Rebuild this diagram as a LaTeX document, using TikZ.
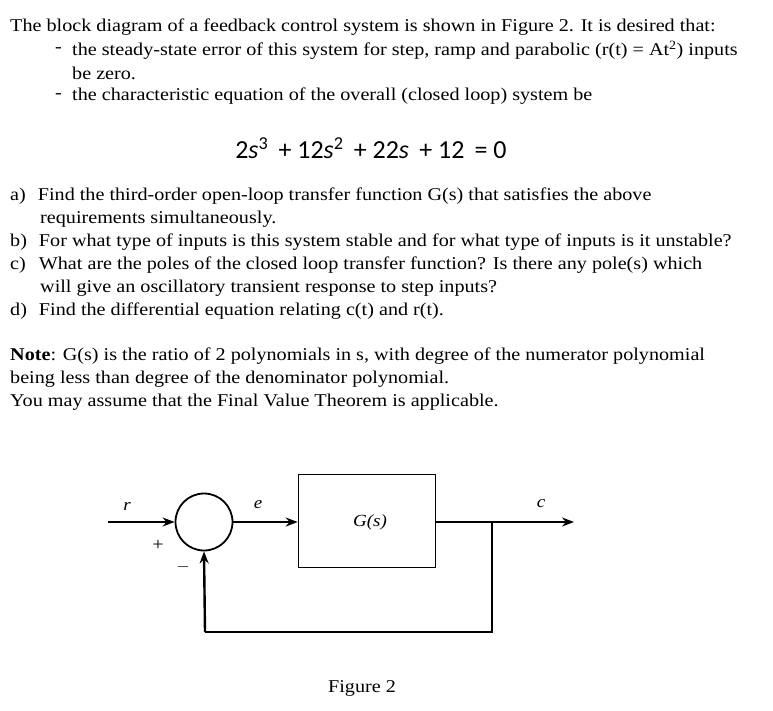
\documentclass[tikz,border=0pt]{standalone}
\usepackage{fontspec}
\setmainfont[FakeStretch=1.12]{Liberation Serif}
\newfontfamily\eqfont{Carlito}
\usetikzlibrary{arrows.meta}
\begin{document}
\begin{tikzpicture}[x=1pt,y=-1pt,
  txt/.style={anchor=west,inner sep=0pt,font=\fontsize{18}{20}\selectfont},
  lbl/.style={inner sep=0pt,font=\fontsize{17}{18}\selectfont\itshape},
  sig/.style={line width=2.4pt,-{Stealth[length=12pt,width=9pt]}},
  wire/.style={line width=2.4pt}]
\useasboundingbox (0,0) rectangle (773,710);
\node[txt] (l1) at (10,27) {The block diagram of a feedback control system is shown in Figure 2. It is desired that:};
\node[txt] (d1) at (55,50) {-};
\node[txt] (l2) at (72,50) {the steady-state error of this system for step, ramp and parabolic (r(t) = At\textsuperscript{2}) inputs};
\node[txt] (l3) at (72,73) {be zero.};
\node[txt] (d2) at (55,96) {-};
\node[txt] (l4) at (72,96) {the characteristic equation of the overall (closed loop) system be};
\node[inner sep=0pt,font=\eqfont\fontsize{26}{28}\selectfont] (eq) at (371,148) {2\textit{s}\textsuperscript{3}\, + 12\textit{s}\textsuperscript{2}\, + 22\textit{s}\, + 12\, = 0};
\node[txt] (a1) at (10,196) {a)\hspace{12pt}Find the third-order open-loop transfer function G(s) that satisfies the above};
\node[txt] (a2) at (40,219) {requirements simultaneously.};
\node[txt] (b1) at (10,242) {b)\hspace{12pt}For what type of inputs is this system stable and for what type of inputs is it unstable?};
\node[txt] (c1) at (10,265) {c)\hspace{13pt}What are the poles of the closed loop transfer function? Is there any pole(s) which};
\node[txt] (c2) at (40,288) {will give an oscillatory transient response to step inputs?};
\node[txt] (d3) at (10,311) {d)\hspace{12pt}Find the differential equation relating c(t) and r(t).};
\node[txt] (n1) at (10,356) {\textbf{Note}: G(s) is the ratio of 2 polynomials in s, with degree of the numerator polynomial};
\node[txt] (n2) at (10,379) {being less than degree of the denominator polynomial.};
\node[txt] (n3) at (10,402) {You may assume that the Final Value Theorem is applicable.};
% diagram
\coordinate (in) at (108,522);
\node[circle,draw,line width=1.8pt,minimum size=57pt,inner sep=0pt] (sum) at (204,522) {};
\node[draw,line width=1.6pt,minimum width=137pt,minimum height=93pt,inner sep=0pt] (G) at (367,521) {};
\node[lbl] (gl) at (370,522) {G(s)};
\coordinate (out) at (574,522);
\coordinate (br) at (492,522);
\coordinate (bl) at (492,632);
\coordinate (bk) at (205,632);
\draw[sig] (in) -- (sum.west);
\draw[sig] (sum.east) -- (G.west |- sum.east);
\draw[sig] (G.east |- out) -- (out);
\draw[wire] (br) -- (bl) -- (bk);
\draw[sig] (bk) -- (sum.south);
\node[lbl] (r) at (127,506) {r};
\node[lbl] (e) at (258,505) {e};
\node[lbl] (c) at (541,504) {c};
\node[inner sep=0pt,font=\fontsize{18}{18}\selectfont] (plus) at (158,545) {+};
\node[inner sep=0pt,font=\fontsize{18}{18}\selectfont] (minus) at (183,567) {$-$};
\node[txt,anchor=center] (fig) at (362,688) {Figure 2};
\end{tikzpicture}
\end{document}
